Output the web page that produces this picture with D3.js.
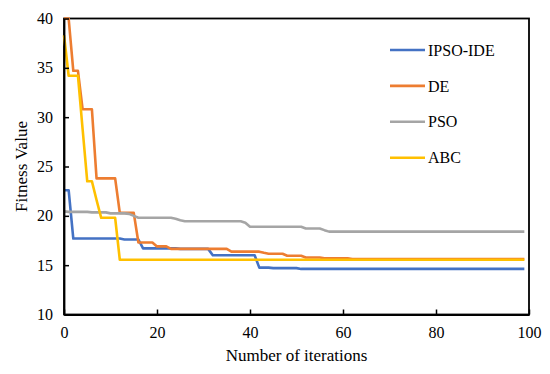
<!DOCTYPE html>
<html>
<head>
<meta charset="utf-8">
<script src="https://cdn.jsdelivr.net/npm/d3@7"></script>
<style>
  body { margin: 0; background: #fff; }
  svg text { font-family: 'Liberation Serif', 'DejaVu Serif', serif !important; fill: #000; }
</style>
</head>
<body>
<div id="svg"></div>
<script>
const seriesNames = ["IPSO-IDE", "DE", "PSO", "ABC"];
const seriesColors = ["#4472C4", "#ED7D31", "#A5A5A5", "#FFC000"];
const xTicks = [0, 20, 40, 60, 80, 100];
const yTicks = [10, 15, 20, 25, 30, 35, 40];

const ipsoIde = [
  22.6, 22.6, 17.7, 17.7, 17.7, 17.7, 17.7, 17.7, 17.7, 17.7,
  17.7, 17.7, 17.7, 17.6, 17.6, 17.6, 17.6, 16.7, 16.7, 16.7,
  16.7, 16.7, 16.7, 16.7, 16.7, 16.65, 16.65, 16.65, 16.65, 16.65,
  16.65, 16.65, 16.0, 16.0, 16.0, 16.0, 16.0, 16.0, 16.0, 16.0,
  16.0, 16.0, 14.75, 14.75, 14.75, 14.7, 14.7, 14.7, 14.7, 14.7,
  14.7, 14.62, 14.62, 14.62, 14.62, 14.62, 14.62, 14.62, 14.62, 14.62,
  14.62, 14.62, 14.62, 14.62, 14.62, 14.62, 14.62, 14.62, 14.62, 14.62,
  14.62, 14.62, 14.62, 14.62, 14.62, 14.62, 14.62, 14.62, 14.62, 14.62,
  14.62, 14.62, 14.62, 14.62, 14.62, 14.62, 14.62, 14.62, 14.62, 14.62,
  14.62, 14.62, 14.62, 14.62, 14.62, 14.62, 14.62, 14.62, 14.62, 14.62
];

const de = [
  40, 40, 34.7, 34.7, 30.8, 30.8, 30.8, 23.8, 23.8, 23.8,
  23.8, 23.8, 20.3, 20.3, 20.3, 20.3, 17.3, 17.3, 17.3, 17.3,
  16.9, 16.9, 16.9, 16.65, 16.65, 16.65, 16.65, 16.65, 16.65, 16.65,
  16.65, 16.65, 16.65, 16.65, 16.65, 16.65, 16.37, 16.37, 16.37, 16.37,
  16.37, 16.37, 16.37, 16.25, 16.15, 16.15, 16.15, 16.15, 15.95, 15.95,
  15.95, 15.95, 15.78, 15.78, 15.78, 15.78, 15.7, 15.7, 15.7, 15.7,
  15.7, 15.7, 15.62, 15.62, 15.62, 15.62, 15.62, 15.62, 15.62, 15.62,
  15.62, 15.62, 15.62, 15.62, 15.62, 15.62, 15.62, 15.62, 15.62, 15.62,
  15.62, 15.62, 15.62, 15.62, 15.62, 15.62, 15.62, 15.62, 15.62, 15.62,
  15.62, 15.62, 15.62, 15.62, 15.62, 15.62, 15.62, 15.62, 15.62, 15.62
];

const pso = [
  20.45, 20.4, 20.4, 20.4, 20.4, 20.4, 20.35, 20.35, 20.35, 20.35,
  20.25, 20.25, 20.25, 20.25, 20.2, 20.0, 19.8, 19.8, 19.8, 19.8,
  19.8, 19.8, 19.8, 19.8, 19.7, 19.55, 19.45, 19.45, 19.45, 19.45,
  19.45, 19.45, 19.45, 19.45, 19.45, 19.45, 19.45, 19.45, 19.45, 19.3,
  18.9, 18.9, 18.9, 18.9, 18.9, 18.9, 18.9, 18.9, 18.9, 18.9,
  18.9, 18.9, 18.72, 18.72, 18.72, 18.72, 18.55, 18.4, 18.4, 18.4,
  18.4, 18.4, 18.4, 18.4, 18.4, 18.4, 18.4, 18.4, 18.4, 18.4,
  18.4, 18.4, 18.4, 18.4, 18.4, 18.4, 18.4, 18.4, 18.4, 18.4,
  18.4, 18.4, 18.4, 18.4, 18.4, 18.4, 18.4, 18.4, 18.4, 18.4,
  18.4, 18.4, 18.4, 18.4, 18.4, 18.4, 18.4, 18.4, 18.4, 18.4
];

const abc = [
  38.3, 34.2, 34.2, 34.2, 28.8, 23.5, 23.5, 21.6, 19.8, 19.8,
  19.8, 19.8, 15.55, 15.55, 15.55, 15.55, 15.55, 15.55, 15.55, 15.55,
  15.55, 15.55, 15.55, 15.55, 15.55, 15.55, 15.55, 15.55, 15.55, 15.55,
  15.55, 15.55, 15.55, 15.55, 15.55, 15.55, 15.55, 15.55, 15.55, 15.55,
  15.55, 15.55, 15.55, 15.55, 15.55, 15.55, 15.55, 15.55, 15.55, 15.55,
  15.55, 15.55, 15.55, 15.55, 15.55, 15.55, 15.55, 15.55, 15.55, 15.55,
  15.55, 15.55, 15.55, 15.55, 15.55, 15.55, 15.55, 15.55, 15.55, 15.55,
  15.55, 15.55, 15.55, 15.55, 15.55, 15.55, 15.55, 15.55, 15.55, 15.55,
  15.55, 15.55, 15.55, 15.55, 15.55, 15.55, 15.55, 15.55, 15.55, 15.55,
  15.55, 15.55, 15.55, 15.55, 15.55, 15.55, 15.55, 15.55, 15.55, 15.55
];

var ChartModule = (() => {

    const width = 550,
        height = 374,
        margin = { top: 18.5, right: 21, bottom: 59.5, left: 64 };

    const series = [ipsoIde, de, pso, abc].map((values, k) => ({
        name: seriesNames[k],
        color: seriesColors[k],
        values: values
    }));

    const xScale = d3.scaleLinear()
        .domain([0, 100])
        .range([margin.left, width - margin.right]);

    const yScale = d3.scaleLinear()
        .domain([10, 40])
        .range([height - margin.bottom, margin.top]);

    const svg = d3.select("#svg")
        .append("svg")
        .attr("width", width)
        .attr("height", height);

    // frame
    svg.append("rect")
        .attr("x", margin.left)
        .attr("y", margin.top)
        .attr("width", width - margin.left - margin.right)
        .attr("height", height - margin.top - margin.bottom)
        .attr("fill", "none")
        .attr("stroke", "#000")
        .attr("stroke-width", 1.8);

    const line = d3.line()
        .x((d, i) => xScale(i))
        .y(d => yScale(d));

    svg.append("g")
        .selectAll("path")
        .data(series)
        .join("path")
        .attr("fill", "none")
        .attr("stroke", d => d.color)
        .attr("stroke-width", 2.6)
        .attr("stroke-linejoin", "round")
        .attr("d", d => line(d.values));

    // axes, ticks pointing inward
    const xAxis = svg.append("g")
        .attr("transform", `translate(0,${height - margin.bottom})`)
        .call(d3.axisBottom(xScale).tickValues(xTicks).tickSizeInner(-5).tickSizeOuter(0).tickPadding(12));

    const yAxis = svg.append("g")
        .attr("transform", `translate(${margin.left},0)`)
        .call(d3.axisLeft(yScale).tickValues(yTicks).tickSizeInner(-5).tickSizeOuter(0).tickPadding(11));

    [xAxis, yAxis].forEach(g => {
        g.attr("font-family", null);
        g.select(".domain").attr("stroke", "#000").attr("stroke-width", 1.8);
        g.selectAll(".tick line").attr("stroke", "#000").attr("stroke-width", 1.5);
        g.selectAll(".tick text").attr("font-size", 16);
    });

    // axis titles
    svg.append("text")
        .attr("x", (margin.left + width - margin.right) / 2)
        .attr("y", 361)
        .attr("text-anchor", "middle")
        .attr("font-size", 17)
        .text("Number of iterations");

    svg.append("text")
        .attr("transform", `translate(27,${(margin.top + height - margin.bottom) / 2}) rotate(-90)`)
        .attr("text-anchor", "middle")
        .attr("font-size", 17)
        .text("Fitness Value");

    // legend
    const legend = svg.append("g")
        .selectAll("g")
        .data(series)
        .join("g")
        .attr("transform", (d, i) => `translate(390,${50 + i * 35.9})`);

    legend.append("line")
        .attr("x1", 0)
        .attr("x2", 35)
        .attr("stroke", d => d.color)
        .attr("stroke-width", 2.6);

    legend.append("text")
        .attr("x", 38)
        .attr("dy", "0.35em")
        .attr("font-size", 16)
        .text(d => d.name);

})();
</script>
</body>
</html>
